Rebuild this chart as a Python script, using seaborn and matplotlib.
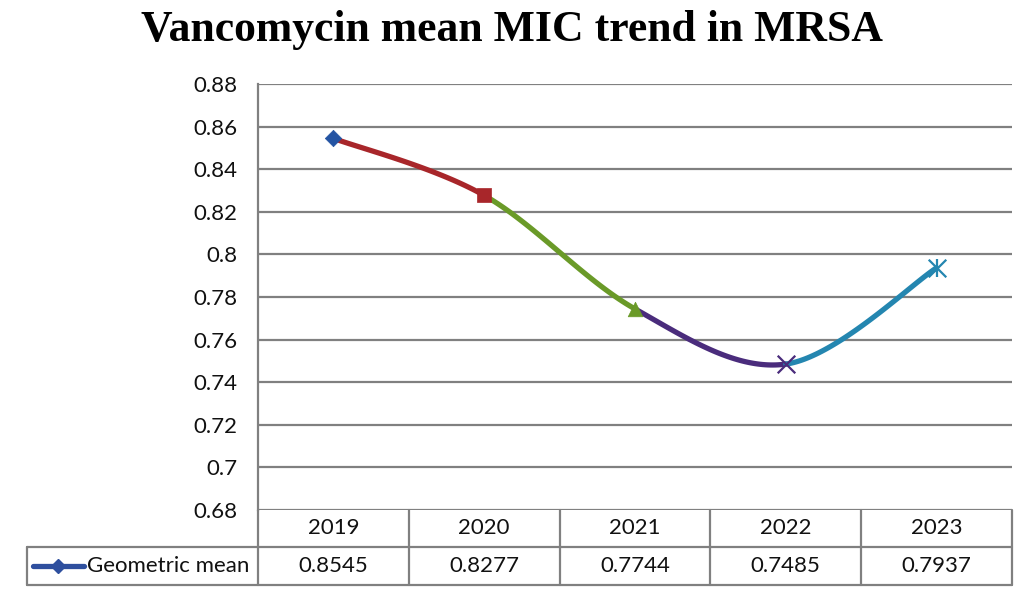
import numpy as np
import pandas as pd
import matplotlib
matplotlib.use("Agg")
import matplotlib.pyplot as plt
import seaborn as sns
from matplotlib.lines import Line2D

# ---- data ----
years = ["2019", "2020", "2021", "2022", "2023"]
geo_mean = [0.8545, 0.8277, 0.7744, 0.7485, 0.7937]
value_labels = ["0.8545", "0.8277", "0.7744", "0.7485", "0.7937"]
series_name = "Geometric mean"
title = "Vancomycin mean MIC trend in MRSA"
y_ticks = [0.68, 0.70, 0.72, 0.74, 0.76, 0.78, 0.80, 0.82, 0.84, 0.86, 0.88]
y_tick_labels = ["0.68", "0.7", "0.72", "0.74", "0.76", "0.78", "0.8", "0.82", "0.84", "0.86", "0.88"]

# ---- styles ----
marker_colors = ["#2454A3", "#A8262A", "#6A9A28", "#4A2C7C", "#2486B0"]
segment_colors = ["#A8262A", "#6A9A28", "#4A2C7C", "#2486B0"]
markers = ["D", "s", "^", "x", "x"]
grid_col = "#808080"
txt_size = 16

sns.set_theme(style="white")
plt.rcParams["font.family"] = ["Lato", "DejaVu Sans"]

W, H = 1024, 593
fig = plt.figure(figsize=(W / 100, H / 100), dpi=100)
L, R, T, B = 258, 1012, 84, 510
ax = fig.add_axes([L / W, 1 - B / H, (R - L) / W, (B - T) / H])

x = np.arange(len(years))
y = np.array(geo_mean)

# Excel-like smoothed curve (Bezier through Catmull-Rom control points)
pts = np.column_stack([x, y])
ext = np.vstack([pts[0], pts, pts[-1]])
t = np.linspace(0, 1, 60)
for i in range(len(pts) - 1):
    p0, p1, p2, p3 = ext[i], ext[i + 1], ext[i + 2], ext[i + 3]
    b1 = p1 + (p2 - p0) / 6
    b2 = p2 - (p3 - p1) / 6
    c = ((1 - t) ** 3)[:, None] * p1 + (3 * (1 - t) ** 2 * t)[:, None] * b1 \
        + (3 * (1 - t) * t ** 2)[:, None] * b2 + (t ** 3)[:, None] * p2
    seg = pd.DataFrame({"x": c[:, 0], "y": c[:, 1]})
    sns.lineplot(data=seg, x="x", y="y", ax=ax, color=segment_colors[i],
                 linewidth=3.8, sort=False, estimator=None, zorder=3)

df = pd.DataFrame({"x": x, "y": y})
for i in range(len(x)):
    ms = {"D": 70, "s": 110, "^": 110, "x": 160}[markers[i]]
    sns.scatterplot(data=df.iloc[[i]], x="x", y="y", ax=ax, marker=markers[i],
                    s=ms, color=marker_colors[i], edgecolor=marker_colors[i],
                    linewidth=1.6 if markers[i] == "x" else 0.5, zorder=4)
# 2023 star: extra vertical stroke
sns.scatterplot(data=df.iloc[[4]], x="x", y="y", ax=ax, marker="|", s=160,
                color=marker_colors[4], linewidth=1.6, zorder=4)

ax.set_xlim(-0.5, len(years) - 0.5)
ax.set_ylim(y_ticks[0], y_ticks[-1])
ax.set_yticks(y_ticks)
ax.set_yticklabels(y_tick_labels, fontsize=txt_size, color="#111111")
ax.set_xticks([])
ax.set_xlabel("")
ax.set_ylabel("")
ax.tick_params(axis="y", length=0, pad=15)
for yt in y_ticks:
    ax.axhline(yt, color=grid_col, linewidth=1.6, zorder=1)
for s in ["top", "right", "bottom"]:
    ax.spines[s].set_visible(False)
ax.spines["left"].set_color(grid_col)
ax.spines["left"].set_linewidth(1.6)

# ---- data table ----
def fx(px):
    return px / W

def fy(py):
    return 1 - py / H

row1, row2, row3 = 510, 547, 585
legend_left = 27
col_w = (R - L) / len(years)
lkw = dict(color=grid_col, linewidth=1.6, transform=fig.transFigure)
fig.add_artist(Line2D([fx(L), fx(L)], [fy(row1), fy(row3)], **lkw))
fig.add_artist(Line2D([fx(legend_left), fx(R)], [fy(row2), fy(row2)], **lkw))
fig.add_artist(Line2D([fx(legend_left), fx(R)], [fy(row3), fy(row3)], **lkw))
fig.add_artist(Line2D([fx(legend_left), fx(legend_left)], [fy(row2), fy(row3)], **lkw))
for i in range(len(years)):
    xr = L + col_w * (i + 1)
    fig.add_artist(Line2D([fx(xr), fx(xr)], [fy(row1), fy(row3)], **lkw))
    xc = L + col_w * (i + 0.5)
    fig.text(fx(xc), fy((row1 + row2) / 2), years[i], ha="center", va="center",
             fontsize=txt_size, color="#111111")
    fig.text(fx(xc), fy((row2 + row3) / 2), value_labels[i], ha="center", va="center",
             fontsize=txt_size, color="#111111")

# legend key in table
fig.add_artist(Line2D([fx(33), fx(84)], [fy(566), fy(566)], color="#2E4F9E",
                      linewidth=3.8, transform=fig.transFigure))
fig.add_artist(Line2D([fx(58)], [fy(566)], color="#2E4F9E", marker="D",
                      markersize=7, linestyle="none", transform=fig.transFigure))
fig.text(fx(87), fy(566), series_name, ha="left", va="center", fontsize=txt_size,
         color="#111111")

fig.text(0.5, fy(30), title, ha="center", va="center", fontsize=31.5,
         fontweight="bold", family=["Liberation Serif", "DejaVu Serif"], color="#000000")

fig.savefig("out.png", dpi=100)
